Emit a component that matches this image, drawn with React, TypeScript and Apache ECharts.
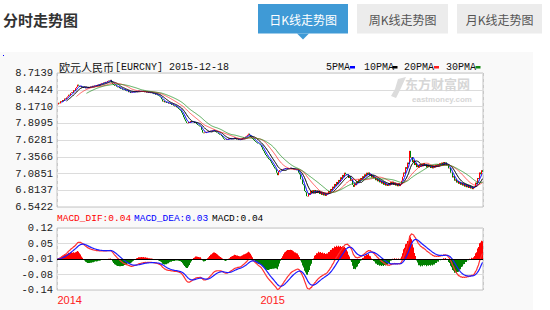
import React, { useEffect, useRef } from "react";
import * as echarts from "echarts";

// ---- data ----
const PAGE_TITLE = "分时走势图";
const TABS = ["日K线走势图", "周K线走势图", "月K线走势图"];
const TITLE_NAME = "欧元人民币";
const TITLE_CODE = "[EURCNY] 2015-12-18";
const MA_PERIODS = [5, 10, 20, 30];
const MA_NAMES = ["5PMA", "10PMA", "20PMA", "30PMA"];
const MA_COLORS = ["#0000ff", "#000000", "#ff2020", "#118811"];
const LAST_DIF = "0.04";
const LAST_DEA = "0.03";
const LAST_MACD = "0.04";
const PRICE_MIN = 6.5422;
const PRICE_MAX = 8.7139;
const PRICE_TICKS = ["8.7139", "8.4424", "8.1710", "7.8995", "7.6281", "7.3566", "7.0851", "6.8137", "6.5422"];
const MACD_MIN = -0.13;
const MACD_MAX = 0.13;
const MACD_TICKS = ["0.12", "0.05", "-0.01", "-0.08", "-0.14"];
const YEAR_TICKS = [
  { index: 0, label: "2014" },
  { index: 203, label: "2015" },
];

// daily closes
const CLOSE = [
  8.205, 8.232, 8.221, 8.258, 8.247, 8.276, 8.262, 8.301, 8.289, 8.318,
  8.335, 8.362, 8.349, 8.388, 8.402, 8.391, 8.436, 8.425, 8.468, 8.489,
  8.525, 8.508, 8.491, 8.502, 8.478, 8.489, 8.471, 8.482, 8.465, 8.478,
  8.469, 8.488, 8.481, 8.496, 8.489, 8.507, 8.498, 8.512, 8.519, 8.507,
  8.524, 8.533, 8.521, 8.540, 8.552, 8.543, 8.561, 8.552, 8.571, 8.565,
  8.583, 8.592, 8.586, 8.603, 8.561, 8.538, 8.520, 8.506, 8.514, 8.493,
  8.481, 8.489, 8.468, 8.455, 8.461, 8.442, 8.436, 8.447, 8.428, 8.419,
  8.431, 8.402, 8.410, 8.389, 8.398, 8.412, 8.405, 8.418, 8.409, 8.421,
  8.414, 8.426, 8.417, 8.408, 8.419, 8.411, 8.423, 8.402, 8.413, 8.396,
  8.407, 8.392, 8.401, 8.388, 8.395, 8.384, 8.372, 8.379, 8.361, 8.368,
  8.352, 8.341, 8.333, 8.318, 8.289, 8.252, 8.264, 8.238, 8.247, 8.229,
  8.236, 8.218, 8.227, 8.214, 8.196, 8.205, 8.184, 8.172, 8.181, 8.158,
  8.146, 8.131, 8.117, 8.102, 8.071, 8.038, 7.996, 7.962, 7.931, 7.905,
  7.898, 7.921, 7.908, 7.935, 7.918, 7.929, 7.925, 7.904, 7.912, 7.886,
  7.871, 7.862, 7.848, 7.841, 7.792, 7.748, 7.737, 7.752, 7.743, 7.761,
  7.768, 7.757, 7.774, 7.781, 7.772, 7.786, 7.794, 7.779, 7.762, 7.748,
  7.739, 7.726, 7.714, 7.708, 7.692, 7.671, 7.648, 7.632, 7.628, 7.641,
  7.636, 7.652, 7.644, 7.661, 7.649, 7.657, 7.652, 7.667, 7.648, 7.635,
  7.642, 7.627, 7.633, 7.629, 7.648, 7.661, 7.672, 7.668, 7.684, 7.695,
  7.712, 7.731, 7.708, 7.683, 7.662, 7.646, 7.629, 7.612, 7.598, 7.585,
  7.571, 7.566, 7.558, 7.542, 7.511, 7.472, 7.446, 7.413, 7.385, 7.362,
  7.341, 7.318, 7.305, 7.282, 7.251, 7.224, 7.196, 7.168, 7.152, 7.098,
  7.058, 7.121, 7.142, 7.138, 7.156, 7.149, 7.163, 7.171, 7.158, 7.166,
  7.174, 7.162, 7.169, 7.178, 7.165, 7.158, 7.151, 7.143, 7.148, 7.139,
  7.142, 7.098, 7.071, 6.992, 6.988, 6.912, 6.893, 6.801, 6.782, 6.718,
  6.712, 6.768, 6.741, 6.806, 6.762, 6.815, 6.771, 6.818, 6.769, 6.812,
  6.768, 6.809, 6.752, 6.789, 6.738, 6.781, 6.729, 6.768, 6.722, 6.758,
  6.749, 6.801, 6.772, 6.834, 6.811, 6.872, 6.846, 6.915, 6.884, 6.948,
  6.912, 6.981, 6.952, 7.024, 6.991, 7.062, 7.031, 7.098, 7.072, 7.058,
  7.071, 7.012, 7.035, 6.968, 6.981, 6.902, 6.868, 6.925, 6.894, 6.958,
  6.931, 6.989, 6.958, 7.012, 6.982, 7.041, 7.008, 7.072, 7.041, 7.098,
  7.064, 7.102, 7.051, 7.078, 7.021, 7.052, 7.008, 7.031, 6.976, 7.004,
  6.958, 6.991, 6.941, 6.972, 6.921, 6.958, 6.902, 6.941, 6.889, 6.918,
  6.884, 6.931, 6.892, 6.946, 6.908, 6.952, 6.901, 6.938, 6.889, 6.921,
  6.878, 6.925, 6.881, 6.912, 6.968, 7.032, 7.101, 7.082, 7.188, 7.161,
  7.262, 7.238, 7.452, 7.341, 7.352, 7.268, 7.301, 7.222, 7.256, 7.188,
  7.221, 7.178, 7.236, 7.191, 7.248, 7.202, 7.256, 7.211, 7.238, 7.182,
  7.231, 7.189, 7.226, 7.174, 7.219, 7.168, 7.212, 7.179, 7.228, 7.192,
  7.236, 7.198, 7.251, 7.212, 7.262, 7.221, 7.271, 7.232, 7.266, 7.218,
  7.231, 7.168, 7.178, 7.098, 7.102, 7.021, 7.042, 6.968, 6.991, 6.938,
  6.962, 6.918, 6.951, 6.902, 6.938, 6.889, 6.925, 6.872, 6.911, 6.862,
  6.898, 6.851, 6.889, 6.842, 6.872, 6.831, 6.858, 6.871, 6.938, 6.912,
  7.012, 6.998, 7.102, 7.071, 7.138, 7.112,
];

// ---- derived (standard indicator definitions) ----
const CATEGORIES = CLOSE.map((_, i) => String(i));
const OPEN = CLOSE.map((c, i) => (i === 0 ? c : CLOSE[i - 1]));
const CANDLES = CLOSE.map((c, i) => [OPEN[i], c, Math.min(OPEN[i], c), Math.max(OPEN[i], c)]);

function movingAverage(n: number) {
  return CLOSE.map((_, i) => {
    if (i < n - 1) return "-";
    let s = 0;
    for (let k = i - n + 1; k <= i; k++) s += CLOSE[k];
    return +(s / n).toFixed(4);
  });
}
function ema(arr: number[], n: number) {
  const a = 2 / (n + 1);
  const out: number[] = [];
  arr.forEach((v, i) => out.push(i === 0 ? v : a * v + (1 - a) * out[i - 1]));
  return out;
}
const E12 = ema(CLOSE, 12);
const E26 = ema(CLOSE, 26);
const DIF = E12.map((v, i) => v - E26[i]);
const DEA = ema(DIF, 9);
const BAR = DIF.map((v, i) => 2 * (v - DEA[i]));

const YEAR_MAP: Record<number, string> = {};
YEAR_TICKS.forEach((t) => (YEAR_MAP[t.index] = t.label));

const MONO = "Liberation Mono, DejaVu Sans Mono, monospace";
const CJK = "Noto Sans CJK SC, sans-serif";

export default function App() {
  const ref = useRef<HTMLDivElement>(null);
  useEffect(() => {
    if (!ref.current) return;
    const chart = echarts.init(ref.current, undefined, { renderer: "svg" });

    const legendX = [326, 364, 404, 446];
    const legendRectX = [350, 392.5, 434, 475.5];
    const graphics: any[] = [
      // page header
      { type: "text", x: 3, y: 19, style: { text: PAGE_TITLE, fill: "#333", fontSize: 15, fontWeight: "bold", fontFamily: CJK, verticalAlign: "middle" } },
      { type: "rect", shape: { x: 258, y: 4, width: 90, height: 29.5 }, style: { fill: "#3f9ad6" } },
      { type: "polygon", shape: { points: [[297, 33.5], [309, 33.5], [303, 39.5]] }, style: { fill: "#3f9ad6" } },
      { type: "text", x: 303, y: 19, style: { text: TABS[0], fill: "#fff", fontSize: 12, fontFamily: CJK, align: "center", verticalAlign: "middle" } },
      { type: "rect", shape: { x: 357, y: 4, width: 91, height: 29.5 }, style: { fill: "#ececec" } },
      { type: "text", x: 402.5, y: 19, style: { text: TABS[1], fill: "#555", fontSize: 12, fontFamily: CJK, align: "center", verticalAlign: "middle" } },
      { type: "rect", shape: { x: 457, y: 4, width: 85, height: 29.5 }, style: { fill: "#ececec" } },
      { type: "text", x: 499.5, y: 19, style: { text: TABS[2], fill: "#555", fontSize: 12, fontFamily: CJK, align: "center", verticalAlign: "middle" } },
      { type: "rect", shape: { x: 3, y: 55, width: 1, height: 1 }, style: { fill: "#0000ff" } },
      // chart title
      { type: "text", x: 59, y: 67, style: { text: TITLE_NAME, fill: "#111", fontSize: 11, fontFamily: CJK, verticalAlign: "middle" } },
      { type: "text", x: 115, y: 67, style: { text: TITLE_CODE, fill: "#111", fontSize: 10, fontFamily: MONO, verticalAlign: "middle" } },
      // MACD header
      { type: "text", x: 57, y: 218, style: { text: "MACD_DIF:" + LAST_DIF, fill: "#ff0000", fontSize: 9.5, fontFamily: MONO, verticalAlign: "middle" } },
      { type: "text", x: 134, y: 218, style: { text: "MACD_DEA:" + LAST_DEA, fill: "#0000ff", fontSize: 9.5, fontFamily: MONO, verticalAlign: "middle" } },
      { type: "text", x: 212, y: 218, style: { text: "MACD:" + LAST_MACD, fill: "#000", fontSize: 9.5, fontFamily: MONO, verticalAlign: "middle" } },
      // watermark
      { type: "polygon", z: 1, shape: { points: [[398, 79], [406, 77], [401, 88], [396, 98], [391, 96], [395, 89]] }, style: { fill: "#dcdcdc" } },
      { type: "text", z: 1, x: 405, y: 83, style: { text: "东方财富网", fill: "#d6d6d6", fontSize: 13, fontWeight: "bold", fontFamily: CJK, verticalAlign: "middle" } },
      { type: "text", z: 1, x: 412, y: 99, style: { text: "eastmoney.com", fill: "#d6d6d6", fontSize: 8, fontWeight: "bold", fontFamily: "Liberation Sans, sans-serif", verticalAlign: "middle" } },
    ];
    MA_NAMES.forEach((n, k) => {
      graphics.push({ type: "text", x: legendX[k], y: 67, style: { text: n, fill: "#111", fontSize: 10, fontFamily: MONO, verticalAlign: "middle" } });
      graphics.push({ type: "rect", shape: { x: legendRectX[k], y: 66, width: 5, height: 2.5 }, style: { fill: MA_COLORS[k] } });
    });

    const gridLine = { show: true, lineStyle: { color: "#dcdcdc", width: 1 } };

    chart.setOption({
      animation: false,
      grid: [
        { left: 57, right: 67, top: 73, height: 134, show: true, backgroundColor: "#fff", borderColor: "#c4c4c4", borderWidth: 1 },
        { left: 57, right: 67, top: 228, height: 62, show: true, backgroundColor: "#fff", borderColor: "#c4c4c4", borderWidth: 1 },
      ],
      xAxis: [
        {
          type: "category", gridIndex: 0, data: CATEGORIES, boundaryGap: true,
          axisLine: { show: false }, axisTick: { show: false }, axisLabel: { show: false },
          splitLine: { show: true, interval: (i: number) => i !== 0 && YEAR_MAP[i] !== undefined, lineStyle: { color: "#c8c8c8", type: [3, 3] } },
        },
        {
          type: "category", gridIndex: 1, data: CATEGORIES, boundaryGap: true,
          axisLine: { show: false }, axisTick: { show: false },
          axisLabel: {
            show: true, interval: (i: number) => YEAR_MAP[i] !== undefined,
            formatter: (_v: string, i: number) => YEAR_MAP[i] ?? "",
            color: "#ff2020", fontSize: 11, fontFamily: "Liberation Sans, Arial, sans-serif", align: "left", margin: 4,
          },
          splitLine: { show: true, interval: (i: number) => i !== 0 && YEAR_MAP[i] !== undefined, lineStyle: { color: "#c8c8c8", type: [3, 3] } },
        },
      ],
      yAxis: [
        { type: "value", gridIndex: 0, min: PRICE_MIN, max: PRICE_MAX, axisLabel: { show: false }, splitLine: { show: false }, axisLine: { show: false }, axisTick: { show: false } },
        {
          type: "value", gridIndex: 0, position: "left", min: 0, max: PRICE_TICKS.length - 1, interval: 1,
          axisLine: { show: false }, axisTick: { show: false }, splitLine: gridLine,
          axisLabel: { formatter: (v: number) => PRICE_TICKS[PRICE_TICKS.length - 1 - Math.round(v)], color: "#222", fontSize: 10.5, fontFamily: MONO, margin: 4, padding: [0, 0, 3, 0] },
        },
        { type: "value", gridIndex: 1, min: MACD_MIN, max: MACD_MAX, axisLabel: { show: false }, splitLine: { show: false }, axisLine: { show: false }, axisTick: { show: false } },
        {
          type: "value", gridIndex: 1, position: "left", min: 0, max: MACD_TICKS.length - 1, interval: 1,
          axisLine: { show: false }, axisTick: { show: false }, splitLine: gridLine,
          axisLabel: { formatter: (v: number) => MACD_TICKS[MACD_TICKS.length - 1 - Math.round(v)], color: "#222", fontSize: 10.5, fontFamily: MONO, margin: 4, padding: [3, 0, 0, 0] },
        },
      ],
      graphic: graphics,
      series: [
        {
          type: "candlestick", xAxisIndex: 0, yAxisIndex: 0, data: CANDLES, barWidth: 1,
          itemStyle: { color: "#ff0000", color0: "#008000", borderColor: "#ff0000", borderColor0: "#008000", borderWidth: 1 },
        },
        ...MA_PERIODS.map((n, k) => ({
          type: "line", name: MA_NAMES[k], xAxisIndex: 0, yAxisIndex: 0, data: movingAverage(n),
          showSymbol: false, symbol: "none", lineStyle: { color: MA_COLORS[k], width: 1, opacity: k >= 2 ? 0.7 : 1 },
        })),
        {
          type: "bar", xAxisIndex: 1, yAxisIndex: 2, data: BAR, barCategoryGap: "0%", barWidth: 1,
          itemStyle: { color: (p: any) => (p.value >= 0 ? "#ff0000" : "#008000") },
          markLine: { silent: true, symbol: ["none", "none"], label: { show: false }, lineStyle: { color: "#000", width: 1, type: "solid" }, data: [{ yAxis: 0 }] },
        },
        { type: "line", xAxisIndex: 1, yAxisIndex: 2, data: DIF, showSymbol: false, symbol: "none", lineStyle: { color: "#ff3030", width: 1.2 } },
        { type: "line", xAxisIndex: 1, yAxisIndex: 2, data: DEA, showSymbol: false, symbol: "none", lineStyle: { color: "#1a1aff", width: 1.2 } },
      ],
    });
    return () => chart.dispose();
  }, []);

  return (
    <div style={{ position: "absolute", left: 0, top: 0, width: 550, height: 310, background: "#fff" }}>
      <div style={{ position: "absolute", left: 0, top: 52, width: 533, height: 258, background: "#f9f9f9" }} />
      <div ref={ref} style={{ position: "absolute", left: 0, top: 0, width: 550, height: 310 }} />
    </div>
  );
}
